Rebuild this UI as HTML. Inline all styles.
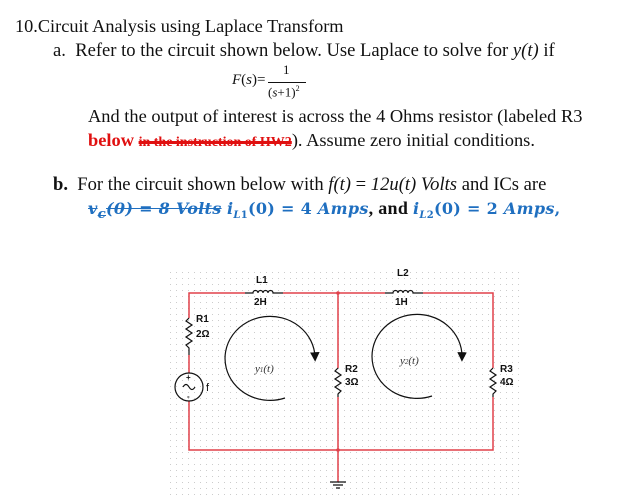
<!DOCTYPE html>
<html><head><style>
body{margin:0;width:623px;height:498px;background:#fff;overflow:hidden;position:relative;font-family:"Liberation Serif",serif;}
.t{position:absolute;white-space:nowrap;font-size:18.3px;color:#111;}
</style></head><body>
<div class="t" style="left:15px;top:16px;">10.Circuit Analysis using Laplace Transform</div>
<div class="t" style="left:53px;top:40px;font-size:18.6px;">a.&nbsp;&nbsp;Refer to the circuit shown below. Use Laplace to solve for <i>y(t)</i> if</div>
<div class="t" style="left:232px;top:72px;font-size:15px;"><i>F</i>(<i>s</i>)=</div>
<div class="t" style="left:283px;top:62px;font-size:13px;">1</div>
<div style="position:absolute;left:268px;top:82px;width:38px;height:1px;background:#111"></div>
<div class="t" style="left:268px;top:84px;font-size:13px;">(<i>s</i>+1)<sup style="font-size:8px">2</sup></div>
<div class="t" style="left:88px;top:106px;font-size:18.4px;">And the output of interest is across the 4 Ohms resistor (labeled R3</div>
<div class="t" style="left:88px;top:130px;font-size:18.4px;"><b style="color:#e01010">below </b><span style="color:#e01010;text-decoration:line-through;text-decoration-thickness:3px;font-size:14px;font-weight:bold;">in the instruction of HW2</span>). Assume zero initial conditions.</div>
<div class="t" style="left:53px;top:174px;font-size:18.6px;"><b>b.</b>&nbsp;&nbsp;For the circuit shown below with <i>f(t)</i> = <i>12u(t) Volts</i> and ICs are</div>
<div class="t" style="left:88px;top:198px;color:#1f6fc0;font-family:'DejaVu Serif',serif;font-size:16px;letter-spacing:0.3px;"><b style="text-decoration:line-through;font-style:italic">v<sub>c</sub>(0) = 8 Volts</b> <b><i>i</i><sub style="font-size:10px"><i>L</i>1</sub>(0) = 4 <i>Amps</i></b><span style="color:#111;font-family:'Liberation Serif',serif;font-weight:bold;font-size:18px">, and </span><b><i>i</i><sub style="font-size:10px"><i>L</i>2</sub>(0) = 2 <i>Amps</i>,</b></div>
<svg style="position:absolute;left:0;top:0" width="623" height="498">
<defs><pattern id="g" width="6" height="6" patternUnits="userSpaceOnUse"><rect x="2" y="2" width="1" height="1" fill="#ccc"/></pattern>
<marker id="a" markerWidth="8" markerHeight="8" refX="4" refY="4" orient="auto"><path d="M0,0 L8,4 L0,8z" fill="#111"/></marker></defs>
<rect x="165" y="268" width="355" height="230" fill="url(#g)"/>
<g stroke="#e0404a" stroke-width="1.5" fill="none">
<path d="M189,318 V293 H245 M283,293 H385 M423,293 H493 V368 M493,397 V450 H189 V401 M189,373 V355"/>
<path d="M338,293 V368 M338,397 V482"/>
</g>
<circle cx="338" cy="293" r="1.8" fill="#e0404a"/><circle cx="338" cy="450" r="1.8" fill="#e0404a"/>
<g stroke="#111" stroke-width="1.2" fill="none">
<path d="M245,293 h8 a2.5,2.5 0 0 1 5,0 a2.5,2.5 0 0 1 5,0 a2.5,2.5 0 0 1 5,0 a2.5,2.5 0 0 1 5,0 h10" />
<path d="M385,293 h8 a2.5,2.5 0 0 1 5,0 a2.5,2.5 0 0 1 5,0 a2.5,2.5 0 0 1 5,0 a2.5,2.5 0 0 1 5,0 h10" />
<path d="M189,318 l-3,3 l6,4 l-6,4 l6,4 l-6,4 l6,4 l-6,4 l3,3 V355"/>
<path d="M338,368 l-3,3 l6,4 l-6,4 l6,4 l-6,4 l6,4 l-3,3 V397"/>
<path d="M493,368 l-3,3 l6,4 l-6,4 l6,4 l-6,4 l6,4 l-3,3 V397"/>
<circle cx="189" cy="387" r="14"/>
<path d="M183,387 q3,-5 6,0 q3,5 6,0"/>
<path d="M330,482 h16 M333,485 h10 M336,488 h4"/>
<path d="M285,398 A45,42 0 1 1 315,357" marker-end="url(#a)"/>
<path d="M432,396 A45,42 0 1 1 462,357" marker-end="url(#a)"/>
</g>
<g font-family="Liberation Sans,sans-serif" font-weight="bold" font-size="10" fill="#111">
<text x="256" y="283">L1</text><text x="254" y="305">2H</text>
<text x="397" y="276">L2</text><text x="395" y="305">1H</text>
<text x="196" y="322">R1</text><text x="196" y="337">2Ω</text>
<text x="345" y="372">R2</text><text x="345" y="385">3Ω</text>
<text x="500" y="372">R3</text><text x="500" y="385">4Ω</text>
<text x="206" y="391" font-weight="normal" font-size="11">f</text>
<text x="186" y="380" font-size="8">+</text><text x="187" y="399" font-size="8">-</text>
</g>
<g font-family="Liberation Serif,serif" font-style="italic" font-size="11" fill="#333">
<text x="255" y="372">y<tspan font-size="7">1</tspan>(t)</text>
<text x="400" y="364">y<tspan font-size="7">2</tspan>(t)</text>
</g>
</svg>
</body></html>
